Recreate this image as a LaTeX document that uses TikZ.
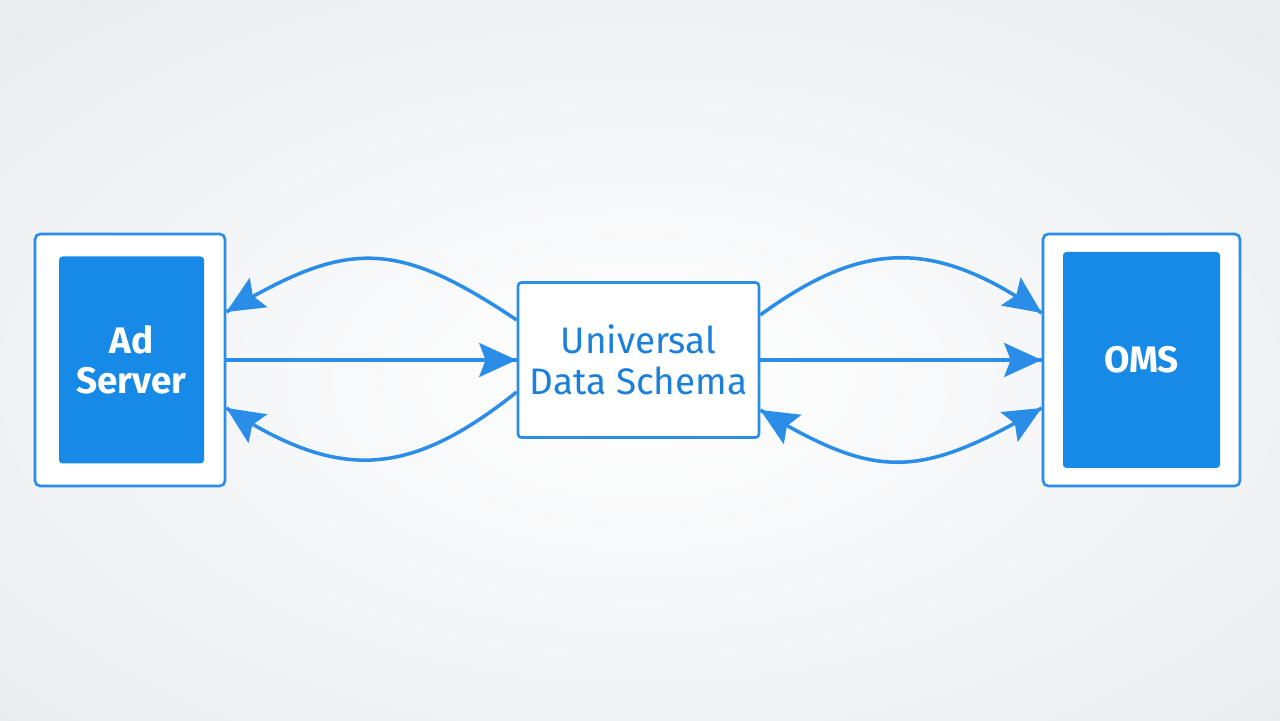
\documentclass[tikz,border=0pt]{standalone}
\usepackage{fontspec}
\setmainfont{Fira Sans}
\usetikzlibrary{arrows.meta}
\usetikzlibrary{decorations.markings}
\definecolor{mblue}{HTML}{1789E6}
\definecolor{lblue}{HTML}{2A8EE8}
\definecolor{tblue}{HTML}{1B80DA}
\definecolor{bgray}{HTML}{EAECEF}
\tikzset{tip/.style = {decoration={markings,
                                   mark=at position 0.9999 with {\arrow{Stealth[length=7.5mm, width=6.8mm, inset=1.3mm]}}},
                       postaction={decorate}}}
\tikzset{tipboth/.style = {decoration={markings,
                                       mark=at position 0.0001 with {\arrowreversed{Stealth[length=7.5mm, width=6.8mm, inset=1.3mm]}},
                                       mark=at position 0.9999 with {\arrow{Stealth[length=7.5mm, width=6.8mm, inset=1.3mm]}}},
                           postaction={decorate}}}
\tikzset{link/.style = {draw=lblue, line width=2pt}}
\tikzset{frame/.style = {draw=lblue, fill=white, line width=1.5pt, rounded corners=3pt}}
\tikzset{panel/.style = {fill=mblue, rounded corners=2pt, text=white, align=center,
                         font=\fontsize{21}{23}\selectfont\bfseries}}
\tikzset{schemabox/.style = {draw=lblue, fill=white, line width=1.5pt, rounded corners=2pt,
                             text=tblue, align=center, font=\fontsize{21}{23}\selectfont}}

\begin{document}
\begin{tikzpicture}
  \useasboundingbox (0, 0) rectangle (25.6, 14.4);
  \fill [bgray] (0, 0) rectangle (25.6, 14.4);
  \begin{scope}
    \clip (0, 0) rectangle (25.6, 14.4);
    \shade [inner color=white, outer color=bgray] (12.8, 6.8) ellipse (18 and 10);
  \end{scope}

  \node [frame, minimum width=3.8cm, minimum height=5.04cm] (adframe) at (2.6, 7.2) {};
  \node [panel, minimum width=2.9cm, minimum height=4.14cm] (ad) at (2.63, 7.2) {Ad\\Server};
  \node [schemabox, minimum width=4.82cm, minimum height=3.1cm] (schema) at (12.77, 7.2) {Universal\\Data Schema};
  \node [frame, minimum width=3.94cm, minimum height=5.04cm] (omsframe) at (22.83, 7.2) {};
  \node [panel, minimum width=3.14cm, minimum height=4.32cm] (oms) at (22.83, 7.2) {OMS};

  \draw [link, tip] ([yshift=0.8cm]schema.west) .. controls +(-2.42, 1.62) and +(2.42, 1.46) .. ([yshift=0.96cm]adframe.east);
  \draw [link, tip] (adframe.east) -- (schema.west);
  \draw [link, tip] ([yshift=-0.64cm]schema.west) .. controls +(-2.2, -1.76) and +(2.2, -1.44) .. ([yshift=-0.96cm]adframe.east);

  \draw [link, tip] ([yshift=0.9cm]schema.east) .. controls +(2.08, 1.52) and +(-2.12, 1.48) .. ([yshift=0.94cm]omsframe.west);
  \draw [link, tip] (schema.east) -- (omsframe.west);
  \draw [link, tipboth] ([yshift=-1cm]schema.east) .. controls +(2.32, -1.4) and +(-2.48, -1.44) .. ([yshift=-0.96cm]omsframe.west);
\end{tikzpicture}
\end{document}
